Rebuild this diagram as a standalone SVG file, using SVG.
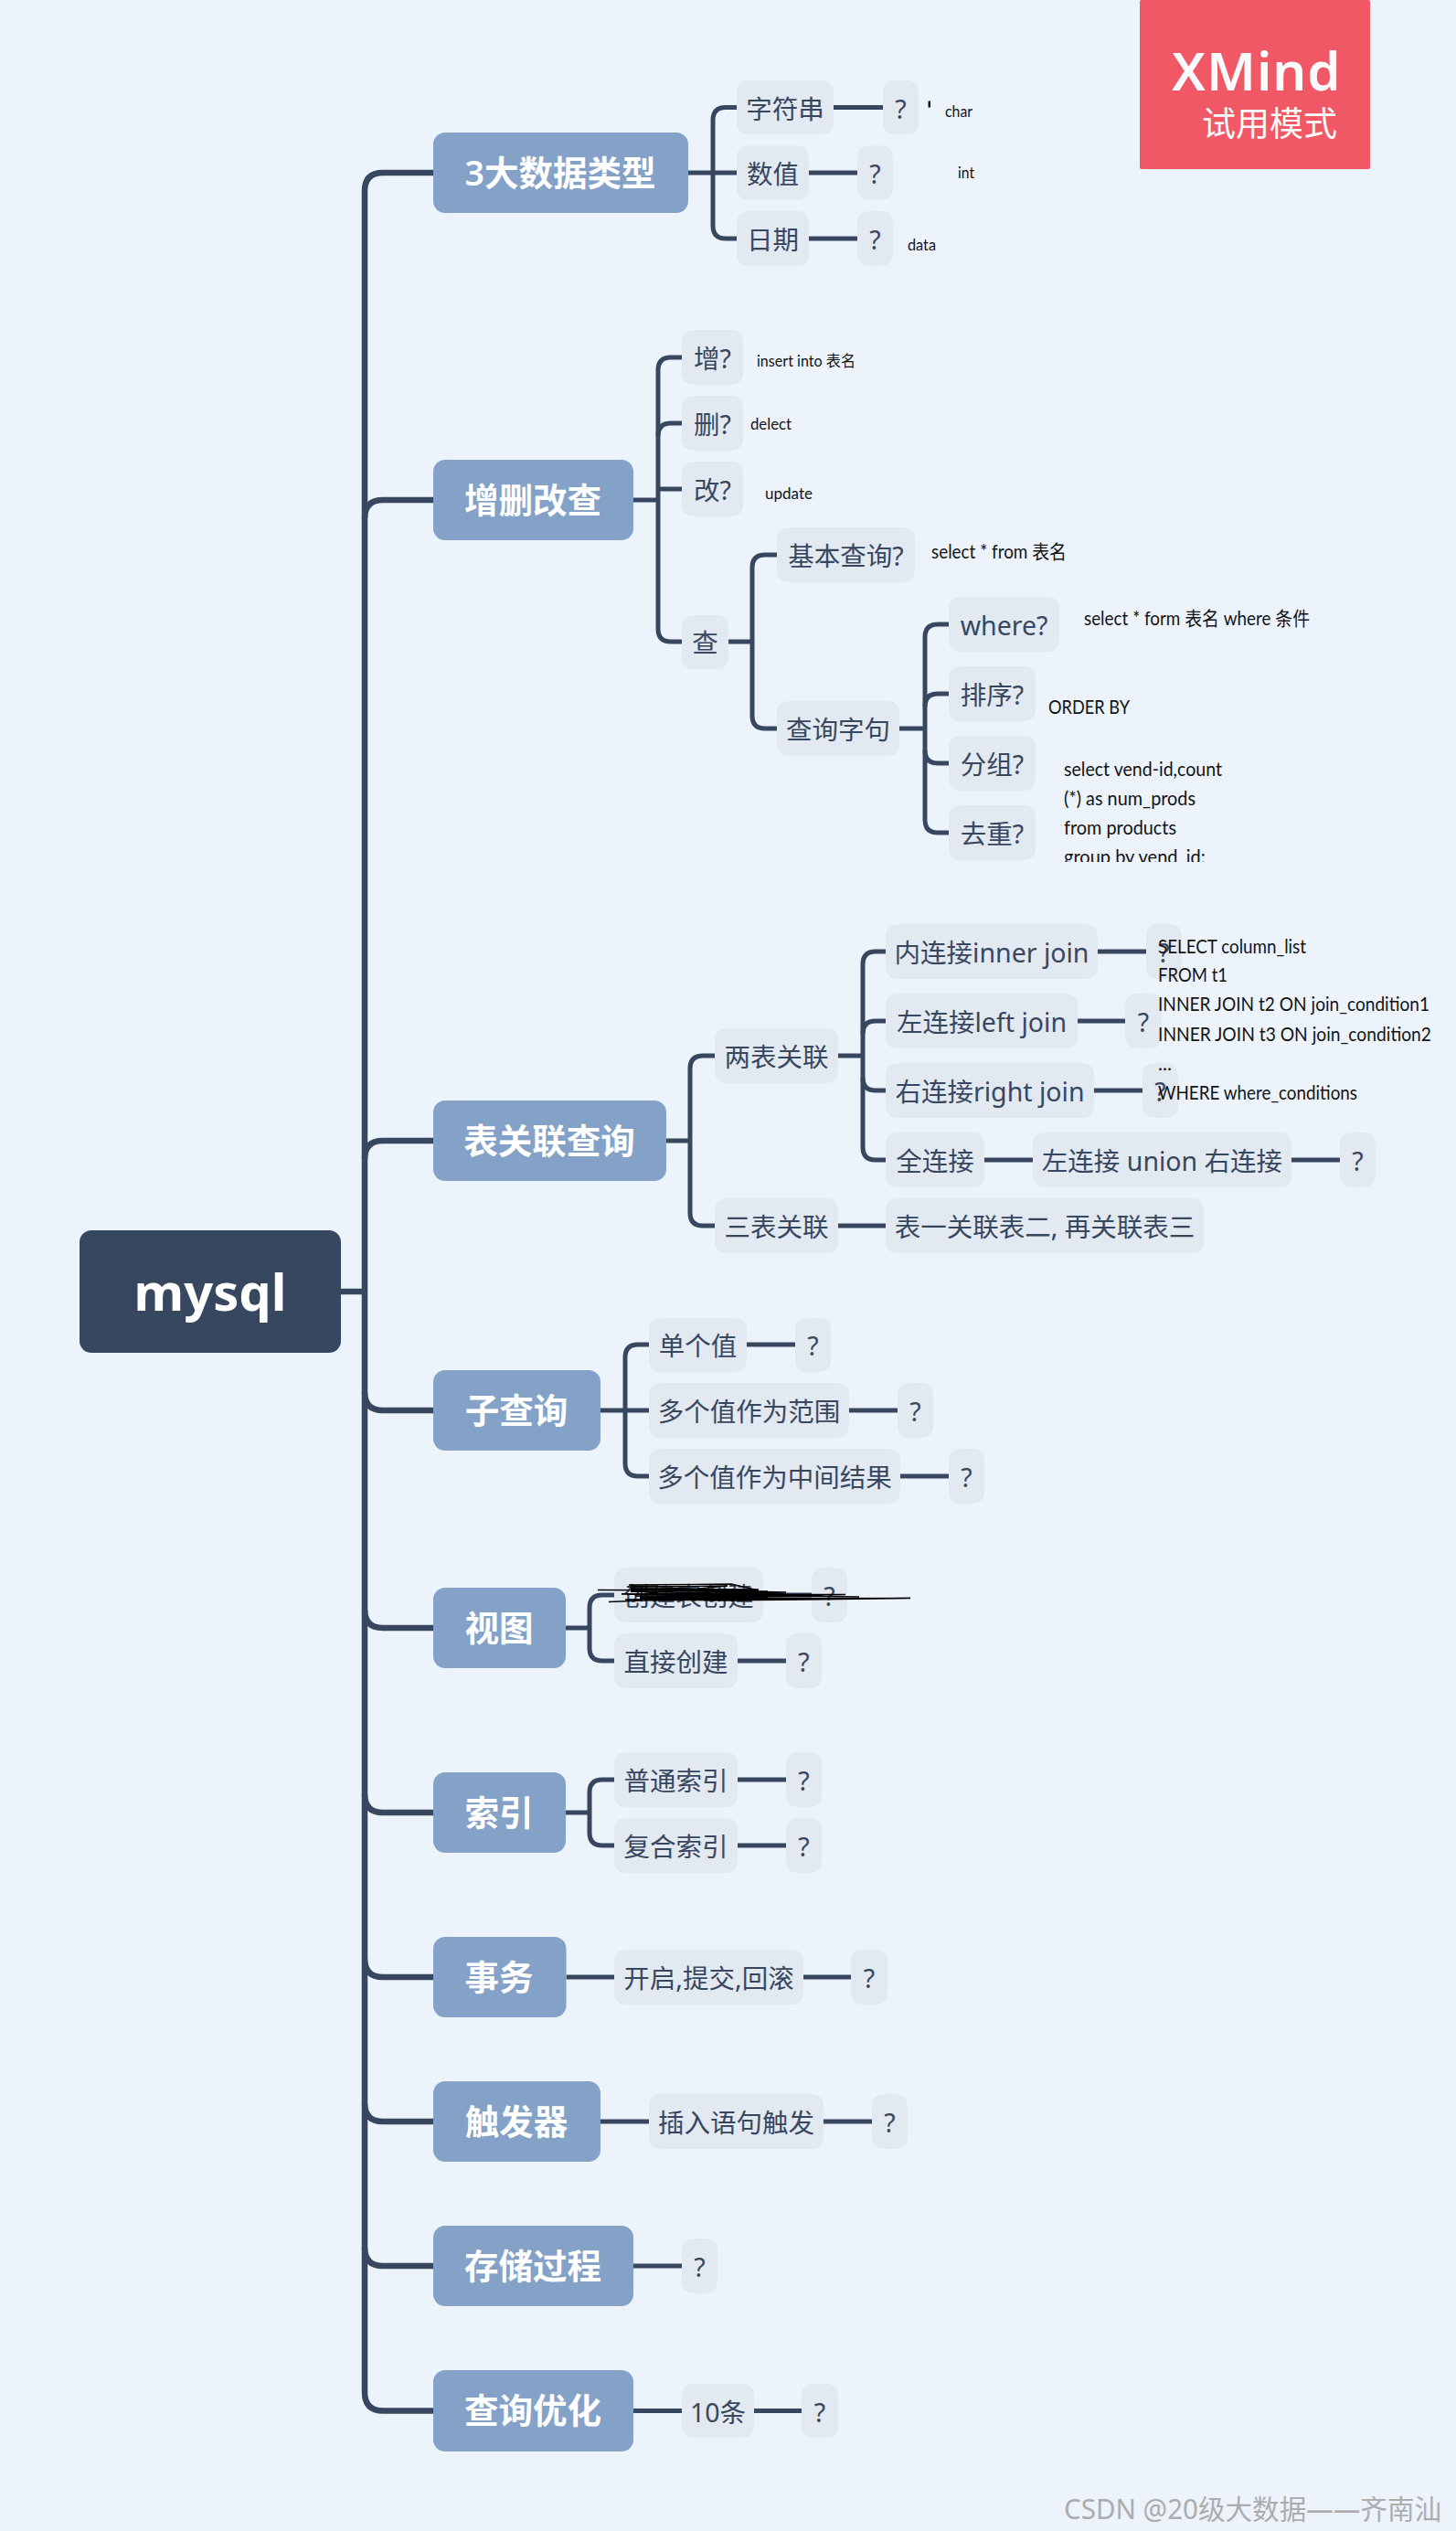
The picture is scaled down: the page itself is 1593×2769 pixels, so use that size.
<svg xmlns="http://www.w3.org/2000/svg" width="1593" height="2769" viewBox="0 0 1593 2769">
<style>
text{font-family:"Noto Sans","Noto Sans CJK SC",sans-serif;dominant-baseline:central}
.conn path{fill:none;stroke:#374760;stroke-linecap:butt}
.c1{stroke-width:6.500}
.c2{stroke-width:5}
.root rect{fill:#36475f}
.root text{fill:#fff;font-size:56px;font-weight:700;text-anchor:middle}
.l1 rect{fill:#84a1c8}
.l1 text{fill:#fff;font-size:37.500px;font-weight:600;text-anchor:middle;transform:translateY(-1px)}
.l2 rect{fill:#e3e9f1}
.l2 text{fill:#374760;font-size:28.500px;text-anchor:middle;transform:translateY(1px)}
.note{font-family:"Lato","Noto Sans CJK SC",sans-serif;fill:#141414;font-size:21px}
.sm{font-size:17px}
.scr path{fill:none;stroke:#000;stroke-width:1.300}
</style>
<defs>
<clipPath id="clipSql"><rect x="1150" y="820" width="300" height="124.500"/></clipPath>
</defs>
<rect width="1593" height="2769" fill="#ecf3fb"/>

<g id="connectors" class="conn">
<path class="c1" d="M373 1413H399"/>
<path class="c1" d="M474 189H419Q399 189 399 209V2617Q399 2637.500 419 2637.500H474"/>
<path class="c1" d="M474 547H419Q399 547 399 567"/>
<path class="c1" d="M474 1248H419Q399 1248 399 1268"/>
<path class="c1" d="M474 1543H419Q399 1543 399 1523"/>
<path class="c1" d="M474 1781H419Q399 1781 399 1761"/>
<path class="c1" d="M474 1983H419Q399 1983 399 1963"/>
<path class="c1" d="M474 2163H419Q399 2163 399 2143"/>
<path class="c1" d="M474 2321H419Q399 2321 399 2301"/>
<path class="c1" d="M474 2479H419Q399 2479 399 2459"/>

<path class="c2" d="M753 189H806M912 117.500H966M885 189H938M885 261H938"/>
<path class="c2" d="M806 117.500H794Q780 117.500 780 131.500V247Q780 261 794 261H806"/>

<path class="c2" d="M693 547H720M720 535H746"/>
<path class="c2" d="M746 391H734Q720 391 720 405V688Q720 702 734 702H746"/>
<path class="c2" d="M746 463H734Q720 463 720 477"/>
<path class="c2" d="M797 702H823"/>
<path class="c2" d="M850 607H837Q823 607 823 621V783Q823 797 837 797H850"/>
<path class="c2" d="M984 797H1012"/>
<path class="c2" d="M1038 683H1026Q1012 683 1012 697V897Q1012 911 1026 911H1038"/>
<path class="c2" d="M1038 759H1026Q1012 759 1012 773"/>
<path class="c2" d="M1038 835H1026Q1012 835 1012 821"/>

<path class="c2" d="M729 1248H755"/>
<path class="c2" d="M782 1155H769Q755 1155 755 1169V1327Q755 1341 769 1341H782"/>
<path class="c2" d="M917 1155H944M917 1341H969"/>
<path class="c2" d="M969 1041H958Q944 1041 944 1055V1255Q944 1269 958 1269H969"/>
<path class="c2" d="M969 1117H958Q944 1117 944 1131"/>
<path class="c2" d="M969 1193H958Q944 1193 944 1179"/>
<path class="c2" d="M1201 1041H1254M1179 1117H1231M1197 1193H1250M1077 1269H1130M1413 1269H1466"/>

<path class="c2" d="M657 1543H710"/>
<path class="c2" d="M710 1471H698Q684 1471 684 1485V1601Q684 1615 698 1615H710"/>
<path class="c2" d="M817 1471H870M929 1543H982M985 1615H1038"/>

<path class="c2" d="M619 1781H645"/>
<path class="c2" d="M672 1745H659Q645 1745 645 1759V1803Q645 1817 659 1817H672"/>
<path class="c2" d="M835 1745H888M807 1817H860"/>

<path class="c2" d="M619 1983H645"/>
<path class="c2" d="M672 1947H659Q645 1947 645 1961V2005Q645 2019 659 2019H672"/>
<path class="c2" d="M807 1947H860M807 2019H860"/>

<path class="c2" d="M619.500 2163H672M879 2163H931"/>
<path class="c2" d="M657 2321H710M901 2321H954"/>
<path class="c2" d="M693 2479H746"/>
<path class="c2" d="M693 2637.500H746M825 2637.500H877"/>
</g>

<g id="root" class="root"><rect x="87" y="1346" width="286" height="134" rx="13"/><text x="230" y="1412">mysql</text></g>

<g id="n1" class="l1"><rect x="474" y="145" width="279" height="88" rx="13"/><text x="613" y="189">3大数据类型</text></g>
<g id="n2" class="l1"><rect x="474" y="503" width="219" height="88" rx="13"/><text x="583" y="547">增删改查</text></g>
<g id="n3" class="l1"><rect x="474" y="1204" width="255" height="88" rx="13"/><text x="601" y="1248">表关联查询</text></g>
<g id="n4" class="l1"><rect x="474" y="1499" width="183" height="88" rx="13"/><text x="565" y="1543">子查询</text></g>
<g id="n5" class="l1"><rect x="474" y="1737" width="145" height="88" rx="13"/><text x="546" y="1781">视图</text></g>
<g id="n6" class="l1"><rect x="474" y="1939" width="145" height="88" rx="13"/><text x="546" y="1983">索引</text></g>
<g id="n7" class="l1"><rect x="474" y="2119" width="145.500" height="88" rx="13"/><text x="546" y="2163">事务</text></g>
<g id="n8" class="l1"><rect x="474" y="2277" width="183" height="88" rx="13"/><text x="565" y="2321">触发器</text></g>
<g id="n9" class="l1"><rect x="474" y="2435" width="219" height="88" rx="13"/><text x="583" y="2479">存储过程</text></g>
<g id="n10" class="l1"><rect x="474" y="2593" width="219" height="89" rx="13"/><text x="583" y="2637.500">查询优化</text></g>

<g id="s1" class="l2"><rect x="806" y="88" width="106" height="59" rx="12"/><text x="859" y="117.500">字符串</text></g>
<g id="s1q" class="l2"><rect x="966" y="88" width="39" height="59" rx="12"/><text x="985.500" y="117.500">?</text></g>
<g id="s2" class="l2"><rect x="806" y="159.500" width="79" height="59" rx="12"/><text x="845.500" y="189">数值</text></g>
<g id="s2q" class="l2"><rect x="938" y="159.500" width="39" height="59" rx="12"/><text x="957.500" y="189">?</text></g>
<g id="s3" class="l2"><rect x="806" y="231" width="79" height="60" rx="12"/><text x="845.500" y="261">日期</text></g>
<g id="s3q" class="l2"><rect x="938" y="231" width="39" height="60" rx="12"/><text x="957.500" y="261">?</text></g>

<g id="z1" class="l2"><rect x="746" y="361" width="67" height="60" rx="12"/><text x="779.500" y="391">增?</text></g>
<g id="z2" class="l2"><rect x="746" y="433" width="67" height="60" rx="12"/><text x="779.500" y="463">删?</text></g>
<g id="z3" class="l2"><rect x="746" y="505" width="67" height="60" rx="12"/><text x="779.500" y="535">改?</text></g>
<g id="z4" class="l2"><rect x="746" y="673" width="51" height="59" rx="12"/><text x="771.500" y="702">查</text></g>
<g id="q1" class="l2"><rect x="850" y="577" width="151" height="60" rx="12"/><text x="925.500" y="607">基本查询?</text></g>
<g id="q2" class="l2"><rect x="850" y="767" width="134" height="60" rx="12"/><text x="917" y="797">查询字句</text></g>
<g id="w1" class="l2"><rect x="1038" y="653" width="121" height="60" rx="12"/><text x="1098.500" y="683">where?</text></g>
<g id="w2" class="l2"><rect x="1038" y="729" width="95" height="60" rx="12"/><text x="1085.500" y="759">排序?</text></g>
<g id="w3" class="l2"><rect x="1038" y="805" width="95" height="60" rx="12"/><text x="1085.500" y="835">分组?</text></g>
<g id="w4" class="l2"><rect x="1038" y="881" width="95" height="60" rx="12"/><text x="1085.500" y="911">去重?</text></g>

<g id="j1" class="l2"><rect x="782" y="1125" width="135" height="60" rx="12"/><text x="849.500" y="1155">两表关联</text></g>
<g id="j2" class="l2"><rect x="782" y="1311" width="135" height="60" rx="12"/><text x="849.500" y="1341">三表关联</text></g>
<g id="j3" class="l2"><rect x="969" y="1011" width="232" height="60" rx="12"/><text x="1085" y="1041">内连接inner join</text></g>
<g id="j3q" class="l2"><rect x="1254" y="1011" width="39" height="60" rx="12"/><text x="1273.500" y="1041">?</text></g>
<g id="j4" class="l2"><rect x="969" y="1087" width="210" height="60" rx="12"/><text x="1074" y="1117">左连接left join</text></g>
<g id="j4q" class="l2"><rect x="1231" y="1087" width="40" height="60" rx="12"/><text x="1251" y="1117">?</text></g>
<g id="j5" class="l2"><rect x="969" y="1163" width="228" height="60" rx="12"/><text x="1083" y="1193">右连接right join</text></g>
<g id="j5q" class="l2"><rect x="1250" y="1163" width="39" height="60" rx="12"/><text x="1269.500" y="1193">?</text></g>
<g id="j6" class="l2"><rect x="969" y="1239" width="108" height="60" rx="12"/><text x="1023" y="1269">全连接</text></g>
<g id="j7" class="l2"><rect x="1130" y="1239" width="283" height="60" rx="12"/><text x="1271.500" y="1269">左连接 union 右连接</text></g>
<g id="j7q" class="l2"><rect x="1466" y="1239" width="39" height="60" rx="12"/><text x="1485.500" y="1269">?</text></g>
<g id="j8" class="l2"><rect x="969" y="1311" width="348" height="60" rx="12"/><text x="1143" y="1341">表一关联表二, 再关联表三</text></g>

<g id="c1" class="l2"><rect x="710" y="1442" width="107" height="59" rx="12"/><text x="763.500" y="1471">单个值</text></g>
<g id="c1q" class="l2"><rect x="870" y="1442" width="39" height="59" rx="12"/><text x="889.500" y="1471">?</text></g>
<g id="c2" class="l2"><rect x="710" y="1513" width="219" height="60" rx="12"/><text x="819.500" y="1543">多个值作为范围</text></g>
<g id="c2q" class="l2"><rect x="982" y="1513" width="39" height="60" rx="12"/><text x="1001.500" y="1543">?</text></g>
<g id="c3" class="l2"><rect x="710" y="1585" width="275" height="60" rx="12"/><text x="847.500" y="1615">多个值作为中间结果</text></g>
<g id="c3q" class="l2"><rect x="1038" y="1585" width="39" height="60" rx="12"/><text x="1057.500" y="1615">?</text></g>

<g id="v1" class="l2"><rect x="672" y="1715" width="163" height="60" rx="12"/><text x="753.500" y="1745">创建表创建</text></g>
<g id="v1q" class="l2"><rect x="888" y="1715" width="39" height="60" rx="12"/><text x="907.500" y="1745">?</text></g>
<g id="v2" class="l2"><rect x="672" y="1787" width="135" height="60" rx="12"/><text x="739.500" y="1817">直接创建</text></g>
<g id="v2q" class="l2"><rect x="860" y="1787" width="39" height="60" rx="12"/><text x="879.500" y="1817">?</text></g>
<g id="i1" class="l2"><rect x="672" y="1917" width="135" height="60" rx="12"/><text x="739.500" y="1947">普通索引</text></g>
<g id="i1q" class="l2"><rect x="860" y="1917" width="39" height="60" rx="12"/><text x="879.500" y="1947">?</text></g>
<g id="i2" class="l2"><rect x="672" y="1989" width="135" height="60" rx="12"/><text x="739.500" y="2019">复合索引</text></g>
<g id="i2q" class="l2"><rect x="860" y="1989" width="39" height="60" rx="12"/><text x="879.500" y="2019">?</text></g>

<g id="t1" class="l2"><rect x="672" y="2133" width="207" height="60" rx="12"/><text x="775.500" y="2163">开启,提交,回滚</text></g>
<g id="t1q" class="l2"><rect x="931" y="2133" width="40" height="60" rx="12"/><text x="951" y="2163">?</text></g>
<g id="g1" class="l2"><rect x="710" y="2291" width="191" height="60" rx="12"/><text x="805.500" y="2321">插入语句触发</text></g>
<g id="g1q" class="l2"><rect x="954" y="2291" width="39" height="60" rx="12"/><text x="973.500" y="2321">?</text></g>
<g id="p1q" class="l2"><rect x="746" y="2449" width="39" height="60" rx="12"/><text x="765.500" y="2479">?</text></g>
<g id="o1" class="l2"><rect x="746" y="2608" width="79" height="59" rx="12"/><text x="785.500" y="2637.500">10条</text></g>
<g id="o1q" class="l2"><rect x="877" y="2608" width="40" height="59" rx="12"/><text x="897" y="2637.500">?</text></g>

<g id="notes" transform="translate(0,-1.500)">
<text class="note sm" x="1034" y="123" textLength="30" lengthAdjust="spacingAndGlyphs">char</text>
<path d="M1015.500 112h2.500v7h-2.500z" fill="#141414"/>
<text class="note sm" x="1048" y="190" textLength="18" lengthAdjust="spacingAndGlyphs">int</text>
<text class="note sm" x="993" y="269" textLength="31" lengthAdjust="spacingAndGlyphs">data</text>
<text class="note sm" x="828" y="396" textLength="108" lengthAdjust="spacingAndGlyphs">insert into 表名</text>
<text class="note sm" x="821" y="465" textLength="45" lengthAdjust="spacingAndGlyphs">delect</text>
<text class="note sm" x="837" y="541" textLength="52" lengthAdjust="spacingAndGlyphs">update</text>
<text class="note" x="1019" y="604" textLength="148" lengthAdjust="spacingAndGlyphs">select * from 表名</text>
<text class="note" x="1186" y="677" textLength="247" lengthAdjust="spacingAndGlyphs">select * form 表名 where 条件</text>
<text class="note" x="1147" y="774" textLength="89" lengthAdjust="spacingAndGlyphs">ORDER BY</text>
<g clip-path="url(#clipSql)">
<text class="note" x="1164" y="842" textLength="173" lengthAdjust="spacingAndGlyphs">select vend-id,count</text>
<text class="note" x="1164" y="874" textLength="144" lengthAdjust="spacingAndGlyphs">(*) as num_prods</text>
<text class="note" x="1164" y="906" textLength="123" lengthAdjust="spacingAndGlyphs">from products</text>
<text class="note" x="1164" y="938" textLength="155" lengthAdjust="spacingAndGlyphs">group by vend_id;</text>
</g>
<text class="note" x="1267" y="1036" textLength="162" lengthAdjust="spacingAndGlyphs">SELECT column_list</text>
<text class="note" x="1267" y="1067" textLength="76" lengthAdjust="spacingAndGlyphs">FROM t1</text>
<text class="note" x="1267" y="1099" textLength="297" lengthAdjust="spacingAndGlyphs">INNER JOIN t2 ON join_condition1</text>
<text class="note" x="1267" y="1132" textLength="299" lengthAdjust="spacingAndGlyphs">INNER JOIN t3 ON join_condition2</text>
<text class="note" x="1267" y="1164">...</text>
<text class="note" x="1267" y="1196" textLength="218" lengthAdjust="spacingAndGlyphs">WHERE where_conditions</text>
</g>

<g id="scribble" class="scr">
<path d="M654 1739.500L780 1740L688 1734L800 1733L830 1740L686 1736L796 1735L700 1744L860 1742L690 1738L826 1743L700 1747L880 1745L690 1741L900 1746L700 1749L925 1744.500L680 1744L940 1747"/>
<path d="M666 1752.500L780 1748L684 1750L820 1751L695 1746L810 1750L700 1751L870 1749L710 1748L840 1747L720 1749L996 1748.500L880 1750L770 1751"/>
<path d="M690 1738L830 1739M690 1741L840 1741M695 1744L860 1744M700 1746L850 1746M700 1748L840 1748"/>
</g>

<g id="badge">
<rect x="1247" y="0" width="252" height="185" rx="2" fill="#ef5864"/>
<text x="1282" y="76" font-size="58" font-weight="600" fill="#fbfbfe" style="letter-spacing:1px">XMind</text>
<text x="1315" y="134" font-size="37" fill="#fbfbfe">试用模式</text>
</g>

<text id="watermark" x="1164" y="2744" font-size="30" fill="#acacac" textLength="413" lengthAdjust="spacingAndGlyphs">CSDN @20级大数据——齐南汕</text>
</svg>
